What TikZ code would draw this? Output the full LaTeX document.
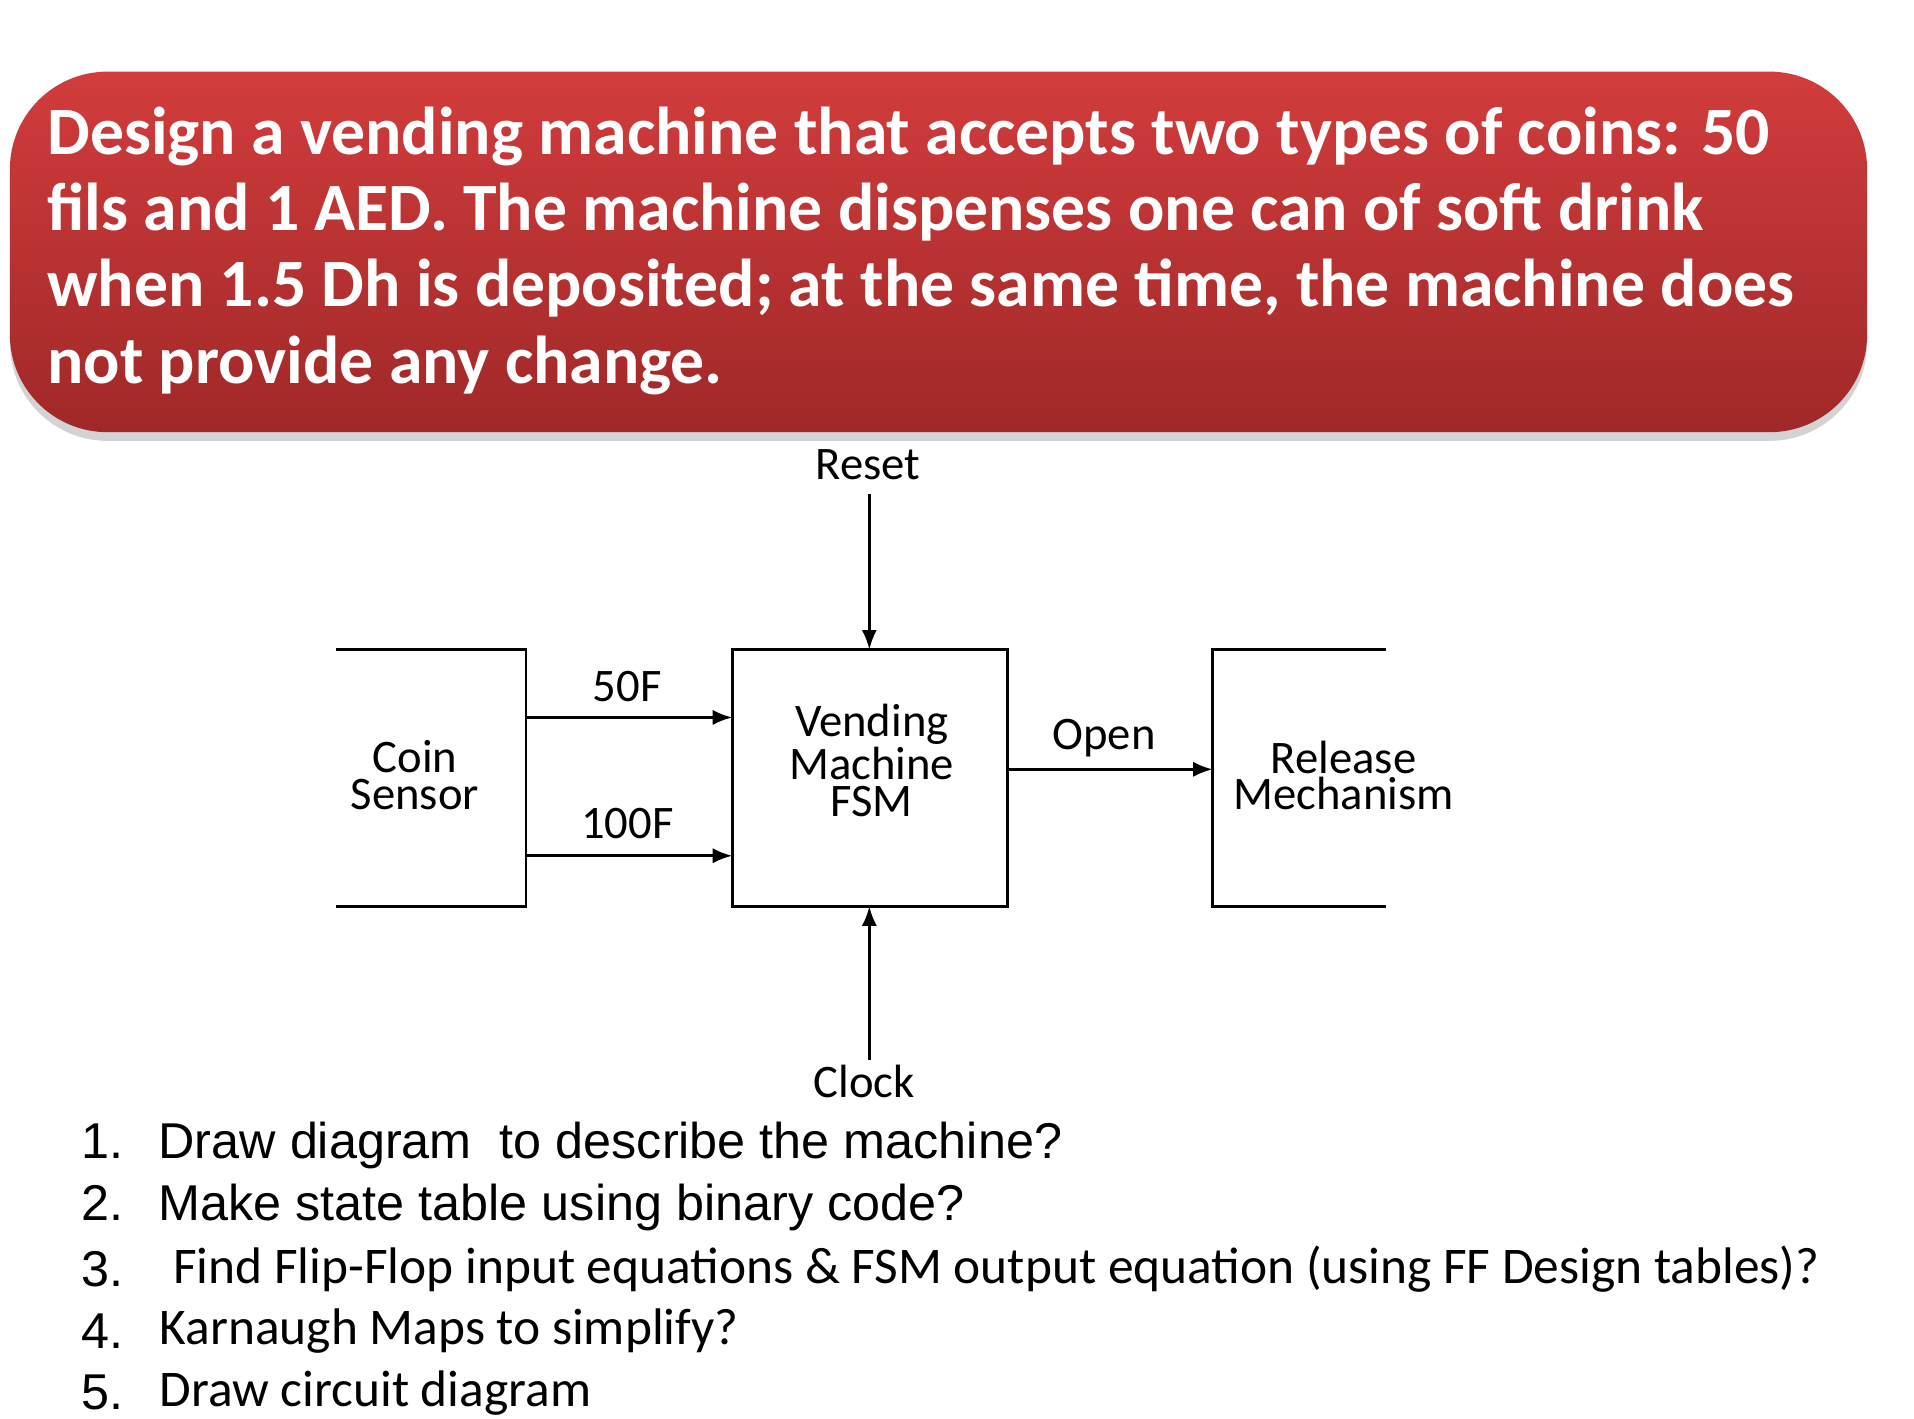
\documentclass[tikz,border=0pt]{standalone}
\usepackage{fontspec}
\setmainfont{Carlito}
\newfontfamily\arialf{Liberation Sans}
\usetikzlibrary{arrows.meta,shadows}
\begin{document}
\begin{tikzpicture}[x=0.02cm,y=-0.02cm,
  wire/.style={line width=1.2pt},
  arr/.style={wire,-{Latex[length=9pt,width=7pt]}},
  lbl/.style={font=\fontsize{21.5}{21.5}\selectfont,inner sep=0pt},
  ml/.style={lbl,align=center,font=\fontsize{21.5}{17}\selectfont},
  q/.style={font=\fontsize{23.7}{23.7}\selectfont,anchor=west,inner sep=0pt},
  qa/.style={q,font=\arialf\fontsize{23.2}{23.2}\selectfont}]
\useasboundingbox (0,0) rectangle (1550,1149);
\node[draw=none,rounded corners=45,minimum width=1504*0.02cm,minimum height=292*0.02cm,
  top color={rgb,255:red,210;green,60;blue,60},bottom color={rgb,255:red,160;green,40;blue,40},
  drop shadow={shadow xshift=0pt,shadow yshift=-4pt,opacity=0.35}] (title) at (760,204) {};
\node[anchor=north west,text=white,align=left,inner sep=0pt,
  font=\bfseries\fontsize{31.2}{35.2}\selectfont] (tt) at (38,86)
  {Design a vending machine that accepts two types of coins: 50\\
   fils and 1 AED. The machine dispenses one can of soft drink\\
   when 1.5 Dh is deposited; at the same time, the machine does\\
   not provide any change.};
% coin sensor
\coordinate (cs1) at (272,526); \coordinate (cs2) at (426,526);
\coordinate (cs3) at (426,734); \coordinate (cs4) at (272,734);
\draw[wire] (cs1) -- (cs2) -- (cs3) -- (cs4);
\node[ml] (coin) at (336,628) {Coin\\Sensor};
% FSM
\node[draw,wire,minimum width=223*0.02cm,minimum height=208*0.02cm,inner sep=0pt] (fsm) at (704.5,630) {};
\node[ml] (fsmt) at (706,616) {Vending\\Machine\\FSM};
% release
\coordinate (r1) at (1122,526); \coordinate (r2) at (982,526);
\coordinate (r3) at (982,734); \coordinate (r4) at (1122,734);
\draw[wire] (r1) -- (r2) -- (r3) -- (r4);
\node[ml] (rel) at (1088,628) {Release\\Mechanism};
% arrows
\coordinate (a1) at (426,581); \coordinate (b1) at (593,581);
\coordinate (a2) at (426,693); \coordinate (b2) at (593,693);
\coordinate (a3) at (816,623); \coordinate (b3) at (982,623);
\draw[arr] (a1) -- (b1); \draw[arr] (a2) -- (b2); \draw[arr] (a3) -- (b3);
\node[lbl] (l50) at (508,556) {50F};
\node[lbl] (l100) at (508,667) {100F};
\node[lbl] (lop) at (894,598) {Open};
\node[lbl] (reset) at (703,376) {Reset};
\node[lbl] (clock) at (700,876) {Clock};
\coordinate (rs) at (704,400); \coordinate (rt) at (704,526);
\coordinate (cs) at (704,858); \coordinate (ct) at (704,734);
\draw[arr] (rs) -- (rt); \draw[arr] (cs) -- (ct);
% questions
\node[qa] (q1) at (66,928) {1.\hspace{16pt}Draw diagram \ to describe the machine?};
\node[qa] (q2) at (66,978) {2.\hspace{16pt}Make state table using binary code?};
\node[qa] (q3n) at (66,1028) {3.};
\node[q] (q3) at (140,1028) {Find Flip-Flop input equations \& FSM output equation (using FF Design tables)?};
\node[qa] (q4n) at (66,1078) {4.};
\node[q] (q4) at (129,1078) {Karnaugh Maps to simplify?};
\node[qa] (q5n) at (66,1128) {5.};
\node[q] (q5) at (129,1128) {Draw circuit diagram};
\end{tikzpicture}
\end{document}
